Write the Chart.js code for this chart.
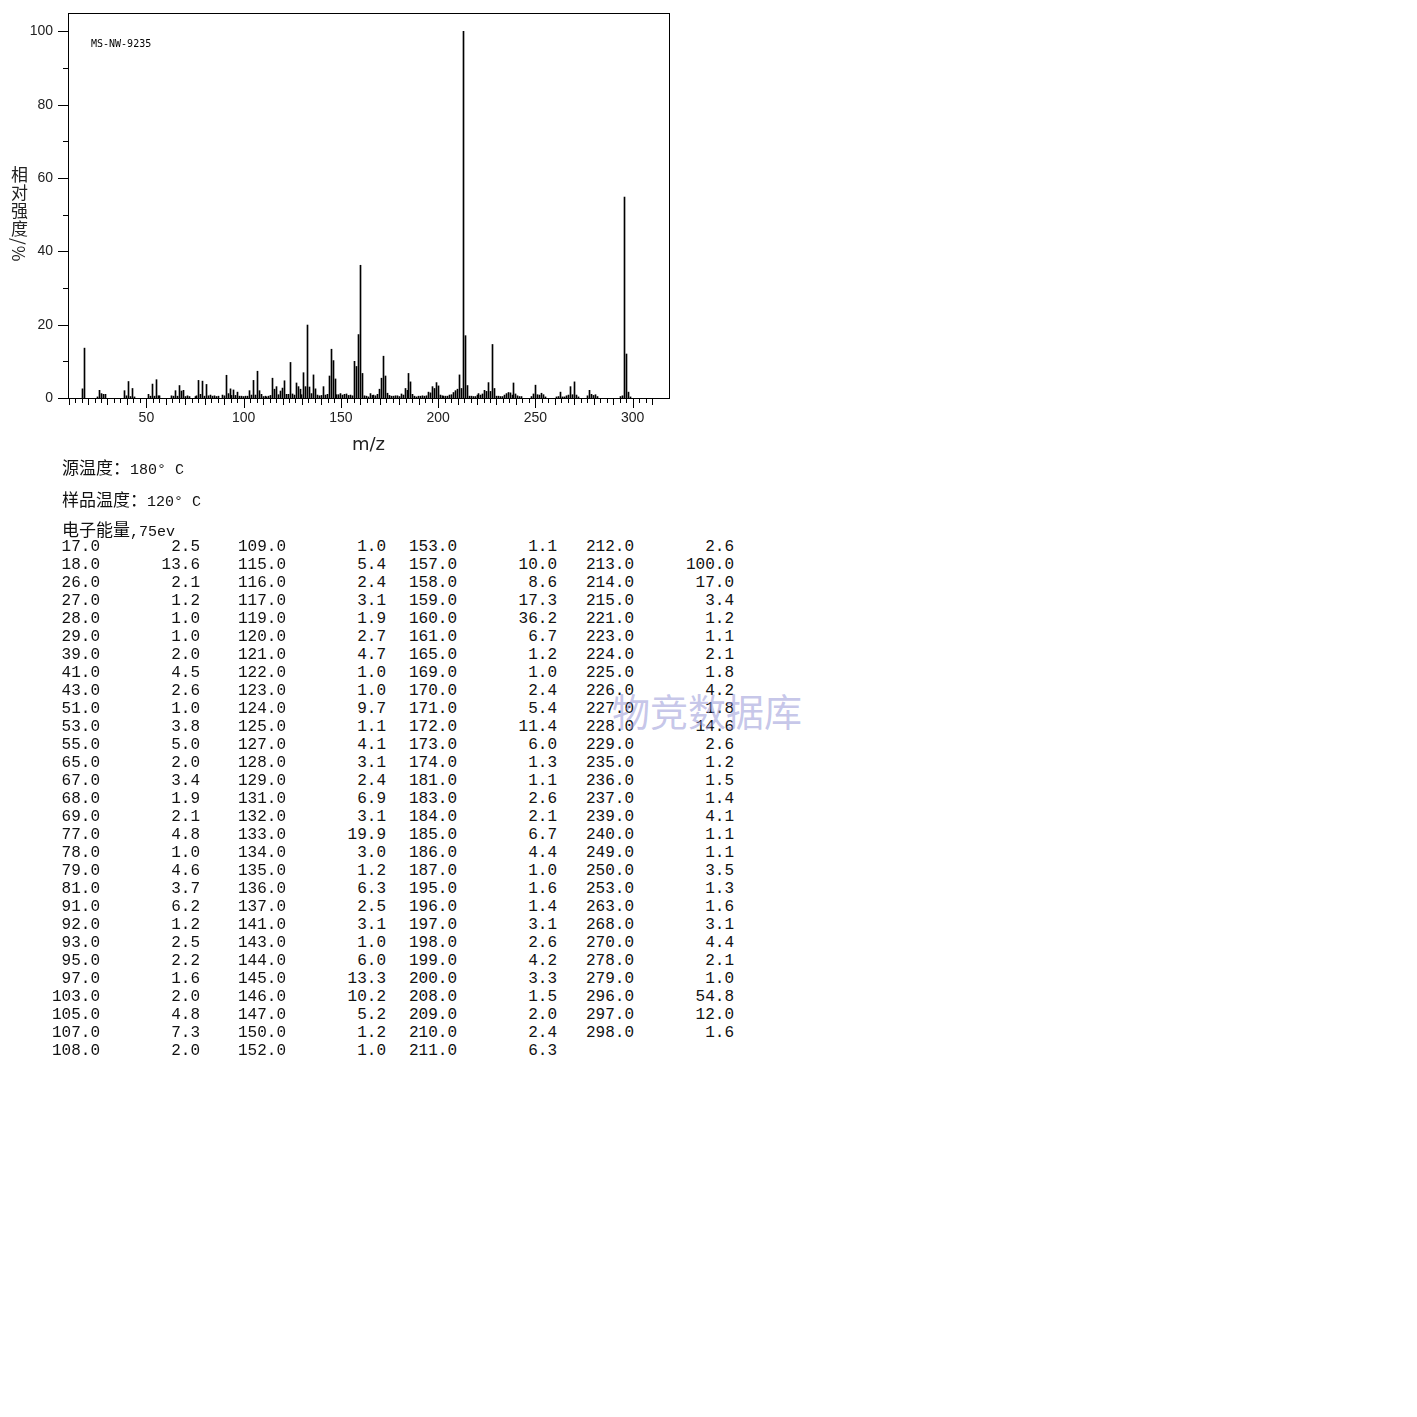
<!DOCTYPE html>
<html>
<head>
<meta charset="utf-8">
<script src="https://cdn.jsdelivr.net/npm/chart.js@4/dist/chart.umd.min.js"></script>
<style>
    body { margin: 0; background: #fff; width: 1417px; height: 1417px; position: relative; overflow: hidden; }
    #chart { position: absolute; left: 0; top: 0; }
    .ytitle { position: absolute; left: 11px; top: 166px; writing-mode: vertical-rl; font: 17px "Noto Sans CJK SC", sans-serif; line-height: 17px; color: #222; letter-spacing: 1px; }
    .info { position: absolute; left: 62px; height: 18px; font: 15px "Liberation Mono", "Noto Sans CJK SC", monospace; line-height: 18px; color: #111; white-space: pre; }
    .info span { font: 17px "Noto Sans CJK SC", sans-serif; line-height: 18px; }
    .col { position: absolute; text-align: right; font: 16px "Liberation Mono", monospace; line-height: 18px; color: #111; white-space: pre; }
    .mark { position: absolute; left: 612px; top: 686px; font: 38px "Noto Sans CJK SC", sans-serif; line-height: 48px; color: rgba(150, 150, 215, 0.55); white-space: nowrap; }
</style>
</head>
<body>
<canvas id="chart" width="720" height="460"></canvas>
<div class="ytitle">相对强度/%</div>
<div class="info" style="top:458px"><span>源温度：</span>180° C</div>
<div class="info" style="top:490px"><span>样品温度：</span>120° C</div>
<div class="info" style="top:520px"><span>电子能量</span>,75ev</div>
<div id="tabela"></div>
<div class="mark">物竞数据库</div>
<script>
// picos listados na tabela (>= 1%)
const mzPicos = [17, 18, 26, 27, 28, 29, 39, 41, 43, 51, 53, 55, 65, 67, 68, 69, 77, 78, 79, 81, 91, 92, 93, 95, 97, 103, 105, 107, 108,
    109, 115, 116, 117, 119, 120, 121, 122, 123, 124, 125, 127, 128, 129, 131, 132, 133, 134, 135, 136, 137, 141, 143, 144, 145, 146, 147, 150, 152,
    153, 157, 158, 159, 160, 161, 165, 169, 170, 171, 172, 173, 174, 181, 183, 184, 185, 186, 187, 195, 196, 197, 198, 199, 200, 208, 209, 210, 211,
    212, 213, 214, 215, 221, 223, 224, 225, 226, 227, 228, 229, 235, 236, 237, 239, 240, 249, 250, 253, 263, 268, 270, 278, 279, 296, 297, 298];
const intensidades = [2.5, 13.6, 2.1, 1.2, 1.0, 1.0, 2.0, 4.5, 2.6, 1.0, 3.8, 5.0, 2.0, 3.4, 1.9, 2.1, 4.8, 1.0, 4.6, 3.7, 6.2, 1.2, 2.5, 2.2, 1.6, 2.0, 4.8, 7.3, 2.0,
    1.0, 5.4, 2.4, 3.1, 1.9, 2.7, 4.7, 1.0, 1.0, 9.7, 1.1, 4.1, 3.1, 2.4, 6.9, 3.1, 19.9, 3.0, 1.2, 6.3, 2.5, 3.1, 1.0, 6.0, 13.3, 10.2, 5.2, 1.2, 1.0,
    1.1, 10.0, 8.6, 17.3, 36.2, 6.7, 1.2, 1.0, 2.4, 5.4, 11.4, 6.0, 1.3, 1.1, 2.6, 2.1, 6.7, 4.4, 1.0, 1.6, 1.4, 3.1, 2.6, 4.2, 3.3, 1.5, 2.0, 2.4, 6.3,
    2.6, 100.0, 17.0, 3.4, 1.2, 1.1, 2.1, 1.8, 4.2, 1.8, 14.6, 2.6, 1.2, 1.5, 1.4, 4.1, 1.1, 1.1, 3.5, 1.3, 1.6, 3.1, 4.4, 2.1, 1.0, 54.8, 12.0, 1.6];

// picos pequenos (< 1%)
const mzMenores = [25, 40, 42, 44, 52, 54, 56, 57, 63, 64, 66, 70, 71, 72, 75, 76, 80, 82, 83, 84, 85, 86, 87, 89, 90,
    94, 96, 98, 99, 100, 101, 102, 104, 106, 110, 111, 112, 113, 114, 118, 126, 130, 138, 139, 140, 142, 148, 149, 151,
    154, 155, 156, 162, 163, 164, 166, 167, 168, 175, 176, 177, 178, 179, 180, 182, 188, 189, 190, 191, 192, 193, 194,
    201, 202, 203, 204, 205, 206, 207, 216, 217, 218, 219, 220, 222, 230, 231, 232, 233, 234, 238, 241, 242, 243, 248,
    251, 252, 254, 255, 261, 262, 264, 265, 266, 267, 269, 271, 272, 277, 280, 281, 282, 294, 295, 299];
const intensMenores = [0.3, 0.6, 0.4, 0.3, 0.5, 0.5, 0.6, 0.6, 0.6, 0.5, 0.5, 0.4, 0.6, 0.4, 0.4, 0.6, 0.5, 0.6, 0.8, 0.5, 0.6, 0.4, 0.5, 0.8, 0.6,
    0.7, 0.7, 0.5, 0.5, 0.4, 0.5, 0.5, 0.8, 0.8, 0.4, 0.5, 0.3, 0.5, 0.7, 0.9, 0.8, 0.9, 0.8, 0.6, 0.7, 0.8, 0.9, 0.9, 0.8,
    0.7, 0.8, 0.6, 0.6, 0.5, 0.3, 0.7, 0.8, 0.6, 0.7, 0.5, 0.5, 0.6, 0.6, 0.4, 0.8, 0.5, 0.3, 0.5, 0.5, 0.6, 0.5, 0.6,
    0.8, 0.6, 0.5, 0.5, 0.5, 0.8, 0.9, 0.5, 0.5, 0.4, 0.4, 0.8, 0.8, 0.5, 0.5, 0.4, 0.4, 0.8, 0.8, 0.6, 0.4, 0.4, 0.4,
    0.9, 0.8, 0.9, 0.3, 0.3, 0.4, 0.3, 0.3, 0.6, 0.8, 0.9, 0.8, 0.3, 0.6, 0.7, 0.9, 0.4, 0.4, 0.6, 0.3];

const ticksX = [50, 100, 150, 200, 250, 300];
const ticksY = [0, 20, 40, 60, 80, 100];
const codigoAmostra = 'MS-NW-9235';

// tabela de texto abaixo do gráfico
const linhasPorColuna = 29;
const colunasMassa = [100, 286, 457, 634];
const colunasInt = [200, 386, 557, 734];
const tabela = document.getElementById('tabela');
for (let c = 0; c < 4; c++) {
    const ini = c * linhasPorColuna;
    const massas = mzPicos.slice(ini, ini + linhasPorColuna).map(v => v.toFixed(1));
    const ints = intensidades.slice(ini, ini + linhasPorColuna).map(v => v.toFixed(1));
    [[massas, colunasMassa[c]], [ints, colunasInt[c]]].forEach(([linhas, direita]) => {
        const div = document.createElement('div');
        div.className = 'col';
        div.style.top = '538px';
        div.style.left = (direita - 80) + 'px';
        div.style.width = '80px';
        div.textContent = linhas.join('\n');
        tabela.appendChild(div);
    });
}

const moldura = {
    id: 'moldura',
    afterDatasetsUpdate(chart) {
        // alinhar cada barra de 1px ao pixel para ficar nítida
        chart.getDatasetMeta(0).data.forEach(el => { el.x = Math.round(el.x - 0.5) + 0.5; });
    },
    afterDraw(chart) {
        const { ctx, chartArea: a, scales: { x, y } } = chart;
        ctx.save();
        ctx.strokeStyle = '#000';
        ctx.lineWidth = 1;
        ctx.strokeRect(a.left + 0.5, a.top + 0.5, a.right - a.left, a.bottom - a.top);
        ctx.beginPath();
        for (let k = 0; k <= 90; k++) {
            const v = 10 + k * 10 / 3;
            const px = Math.round(x.getPixelForValue(v)) + 0.5;
            const r = Math.round(v);
            const inteiro = Math.abs(v - r) < 0.01;
            const len = inteiro && r % 50 === 0 ? 10 : (inteiro && r % 10 === 0 ? 7 : 5);
            ctx.moveTo(px, a.bottom);
            ctx.lineTo(px, a.bottom + len);
        }
        for (let v = 0; v <= 100; v += 10) {
            const py = Math.round(y.getPixelForValue(v)) + 0.5;
            ctx.moveTo(a.left - (v % 20 === 0 ? 10 : 5), py);
            ctx.lineTo(a.left, py);
        }
        ctx.stroke();
        ctx.fillStyle = '#000';
        ctx.textBaseline = 'middle';
        ctx.font = '10px "DejaVu Sans Mono"';
        ctx.fillText(codigoAmostra, a.left + 23, a.top + 31);
        ctx.fillStyle = '#222';
        ctx.font = '18px "DejaVu Sans"';
        ctx.textAlign = 'center';
        ctx.fillText('m/z', (a.left + a.right) / 2, a.bottom + 47);
        ctx.restore();
    }
};

const pontos = mzPicos.map((m, i) => ({ x: m, y: intensidades[i] }))
    .concat(mzMenores.map((m, i) => ({ x: m, y: intensMenores[i] })));

new Chart(document.getElementById('chart'), {
    type: 'bar',
    data: {
        datasets: [{
            data: pontos,
            backgroundColor: '#000',
            borderWidth: 0,
            barThickness: 1,
            grouped: false
        }]
    },
    options: {
        responsive: false,
        animation: false,
        devicePixelRatio: 1,
        layout: { padding: { top: 13, right: 51, left: 0, bottom: 0 } },
        plugins: { legend: { display: false }, tooltip: { enabled: false } },
        scales: {
            x: {
                type: 'linear',
                offset: false,
                min: 9.7,
                max: 318.7,
                grid: { display: false },
                border: { display: false },
                afterBuildTicks: s => { s.ticks = ticksX.map(v => ({ value: v })); },
                afterFit: s => { s.height = 62; s.paddingLeft = 0; s.paddingRight = 0; },
                ticks: { color: '#222', font: { family: 'Liberation Sans', size: 14 }, padding: 4, maxRotation: 0 }
            },
            y: {
                min: 0,
                max: 105,
                grid: { display: false },
                border: { display: false },
                afterBuildTicks: s => { s.ticks = ticksY.map(v => ({ value: v })); },
                afterFit: s => { s.width = 68; s.paddingTop = 0; s.paddingBottom = 0; },
                ticks: { color: '#222', font: { family: 'Liberation Sans', size: 14 }, padding: 7 }
            }
        }
    },
    plugins: [moldura]
});
</script>
</body>
</html>
